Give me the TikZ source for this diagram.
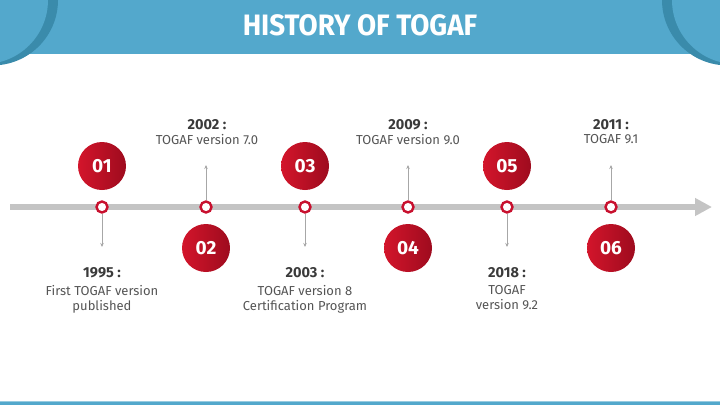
\documentclass[tikz,border=0pt]{standalone}
\usepackage{fontspec}
\setmainfont{Fira Sans}
\newfontfamily\titlefont[FakeStretch=0.94]{Fira Sans}
\usetikzlibrary{arrows.meta}
\definecolor{band}{HTML}{53A8CC}
\definecolor{banddark}{HTML}{3A8BAB}
\definecolor{tred}{HTML}{C8102E}
\definecolor{redL}{HTML}{D3152B}
\definecolor{redR}{HTML}{9E0B1E}
\definecolor{tline}{HTML}{C4C4C4}
\definecolor{yearc}{HTML}{3A3A3A}
\definecolor{descc}{HTML}{555555}
\tikzset{
  marker/.style={circle,draw=tred,line width=2.4pt,fill=white,minimum size=11pt,inner sep=0pt},
  bignum/.style={circle,minimum size=48pt,inner sep=0pt,shade,left color=redL,right color=redR,
     text=white,font=\bfseries\fontsize{19}{19}\selectfont},
  tick/.style={draw=tline!85!black,line width=0.8pt,-{Stealth[length=4pt,width=3.5pt]}},
  year/.style={text=yearc,font=\bfseries\fontsize{14.5}{15}\selectfont,inner sep=0pt},
  desc/.style={text=descc,font=\fontsize{13}{14.5}\selectfont,align=center,inner sep=0pt,anchor=north}
}
\begin{document}
\begin{tikzpicture}[x=1pt,y=-1pt]
\useasboundingbox (0,0) rectangle (720,405);
% header band
\fill[band] (0,0) rectangle (720,53.5);
% corners
\begin{scope}
\clip (0,0) rectangle (720,405);
\fill[banddark] (-7.4,0) circle (65.4);
\fill[band] (-16,0) circle (64);
\fill[banddark] (727.4,0) circle (65.4);
\fill[band] (736,0) circle (64);
\end{scope}
\node[text=white,font=\titlefont\bfseries\fontsize{29.5}{29.5}\selectfont] (title) at (360,25) {HISTORY OF TOGAF};
% bottom stripe
\fill[band] (0,400.5) rectangle (720,405);
\fill[band!60!white] (0,400.5) rectangle (720,401.5);
% timeline
\coordinate (tstart) at (10,207);
\coordinate (tend) at (712,207);
\draw[tline,line width=6pt,-{Triangle[length=17pt,width=17pt]}] (tstart) -- (tend);
% markers
\foreach \i/\x in {1/102,2/206,3/305,4/408,5/507,6/611}{
  \node[marker] (m\i) at (\x,207) {};
}
% big numbers
\node[bignum] (n1) at (102,166) {01};
\node[bignum] (n2) at (206,248) {02};
\node[bignum] (n3) at (305,166) {03};
\node[bignum] (n4) at (408,248) {04};
\node[bignum] (n5) at (507,166) {05};
\node[bignum] (n6) at (611,248) {06};
% tick arrows
\coordinate (a1) at (102,247);
\coordinate (a3) at (305,247);
\coordinate (a5) at (507,247);
\coordinate (a2) at (206,165);
\coordinate (a4) at (408,165);
\coordinate (a6) at (611,165);
\foreach \i in {1,...,6}{ \draw[tick] (m\i) -- (a\i); }
% labels below
\node[year] (y1) at (102,273) {1995 :};
\node[desc] (d1) at (102,285.5) {First TOGAF version\\published};
\node[year] (y3) at (305,273) {2003 :};
\node[desc] (d3) at (305,285.5) {TOGAF version 8\\Certification Program};
\node[year] (y5) at (507,273) {2018 :};
\node[desc] (d5) at (507,285.5) {TOGAF\\version 9.2};
% labels above
\node[year] (y2) at (207,125) {2002 :};
\node[desc] (d2) at (207,134.5) {TOGAF version 7.0};
\node[year] (y4) at (408,125) {2009 :};
\node[desc] (d4) at (408,134.5) {TOGAF version 9.0};
\node[year] (y6) at (611,125) {2011 :};
\node[desc] (d6) at (611,134.5) {TOGAF 9.1};
\end{tikzpicture}
\end{document}
